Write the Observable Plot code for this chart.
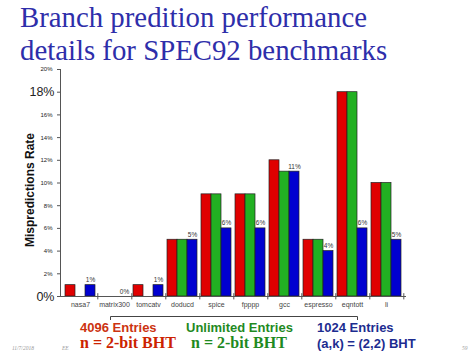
<!DOCTYPE html>
<html><head><meta charset="utf-8">
<script src="https://cdn.jsdelivr.net/npm/d3@7"></script>
<script src="https://cdn.jsdelivr.net/npm/@observablehq/plot@0.6"></script>
<style>
body{margin:0;background:#fff;}
#wrap{position:relative;width:474px;height:355px;overflow:hidden;background:#fff;}
#chart,#deco{position:absolute;left:0;top:0;}
#deco text{font-family:'Liberation Sans',Arial,sans-serif;}
#deco text.serif{font-family:'Liberation Serif','Times New Roman',serif;}
</style></head><body>
<div id="wrap">
<div id="chart"></div>
<svg id="deco" width="474" height="355">
  <text class="serif" x="20" y="27" font-size="28.8" fill="#2e2eaa">Branch predition performance</text>
  <text class="serif" x="20" y="60" font-size="28.8" fill="#2e2eaa">details for SPEC92 benchmarks</text>
  <path d="M110.5,320V316.5H357.5V320" fill="none" stroke="#444" stroke-width="1"/>
  <text x="80" y="332" font-size="13" font-weight="bold" fill="#cc3311">4096 Entries</text>
  <text class="serif" x="80" y="348" font-size="16" font-weight="bold" fill="#cc2200">n = 2-bit BHT</text>
  <text x="186" y="332" font-size="13" font-weight="bold" fill="#1f8a1f">Unlimited Entries</text>
  <text class="serif" x="191" y="348" font-size="16" font-weight="bold" fill="#1f8a1f">n = 2-bit BHT</text>
  <text x="317" y="332" font-size="13" font-weight="bold" fill="#1c2c90">1024 Entries</text>
  <text x="317" y="348" font-size="13" font-weight="bold" fill="#1c2c90">(a,k) = (2,2) BHT</text>
  <text class="serif" x="12" y="350" font-style="italic" font-size="5.5" fill="#999">11/7/2018</text>
  <text class="serif" x="62" y="350" font-style="italic" font-size="5.5" fill="#999">EE</text>
  <text class="serif" x="462" y="350" font-style="italic" font-size="5.5" fill="#999">59</text>
</svg>
</div>
<script>
const benchmarks = ["nasa7","matrix300","tomcatv","doducd","spice","fpppp","gcc","espresso","eqntott","li"];
const bht4096   = [1, 0, 1, 5, 9, 9, 12, 5, 18, 10];
const unlimited = [0, 0, 0, 5, 9, 9, 11, 5, 18, 10];
const bht1024   = [1, 0, 1, 5, 6, 6, 11, 4, 6, 5];
const valueLabels = ["1%","0%","1%","5%","6%","6%","11%","4%","6%","5%"];
const yTicksSmall = [2, 4, 6, 8, 10, 12, 14, 16, 20];
const yTicksLarge = [0, 18];
const seriesNames = ["4096 Entries", "Unlimited Entries", "1024 Entries"];
const seriesColors = ["#e00000", "#22b022", "#0000d0"];

const seriesValues = [bht4096, unlimited, bht1024];
const rows = [];
seriesValues.forEach((vals, s) => vals.forEach((v, i) => rows.push({bench: benchmarks[i], series: seriesNames[s], s, value: v})));
const labelRows = benchmarks.map((b, i) => ({bench: b, value: bht1024[i], label: valueLabels[i]}));

const insets = [[0, 20], [10, 10], [20, 0]];
const barMarks = seriesNames.map((name, s) =>
  Plot.barY(rows.filter(d => d.s === s && d.value > 0), {
    x: "bench", y: "value", fill: seriesColors[s], stroke: "#222", strokeWidth: 0.7,
    insetLeft: insets[s][0], insetRight: insets[s][1]
  })
);

const plot = Plot.plot({
  width: 474, height: 355,
  marginLeft: 60, marginRight: 68, marginTop: 69, marginBottom: 59,
  style: {background: "transparent", fontFamily: "Liberation Sans, Arial, sans-serif", color: "#222"},
  x: {domain: benchmarks, paddingInner: 0.13, paddingOuter: 0.06, axis: null},
  y: {domain: [0, 20], axis: null},
  marks: [
    ...barMarks,
    Plot.ruleY([0], {stroke: "#555", strokeWidth: 1}),
    Plot.frame({anchor: "left", stroke: "#555", strokeWidth: 1}),
    Plot.ruleX(benchmarks, {x: d => d, y1: -0.3, y2: 0.25, dx: 17.3, stroke: "#555"}),
    Plot.axisY({ticks: yTicksSmall, tickFormat: d => d + "%", fontSize: 6, tickSize: 3, tickPadding: 5, label: null, stroke: "#555"}),
    Plot.axisY({ticks: yTicksLarge, tickFormat: d => d + "%", fontSize: 12.5, tickSize: 3, tickPadding: 3, label: null, stroke: "#555"}),
    Plot.axisX({tickSize: 0, tickPadding: 6, fontSize: 7, fill: "#444", label: null}),
    Plot.text(labelRows, {x: "bench", y: "value", text: "label", dx: 10, dy: -3, lineAnchor: "bottom", fontSize: 6.5, fill: "#333"}),
    Plot.text(["Mispredictions Rate"], {frameAnchor: "left", textAnchor: "middle", rotate: -90, dx: -30, dy: 7, fontSize: 12, fontWeight: "bold", fill: "#111"})
  ]
});
document.getElementById("chart").appendChild(plot);
</script>
</body></html>
